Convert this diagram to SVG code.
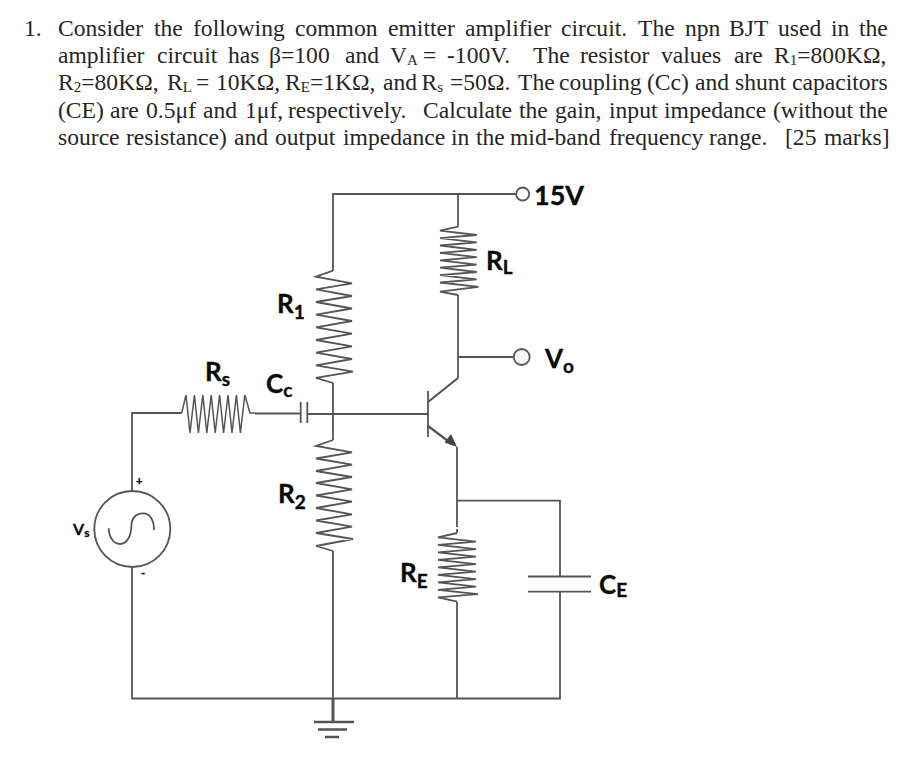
<svg xmlns="http://www.w3.org/2000/svg" width="924" height="781" viewBox="0 0 924 781">
<style>
.w{fill:none;stroke:#555;stroke-width:1.8;stroke-linejoin:miter}
.t{font-family:"Liberation Serif","Times New Roman",serif;font-size:23.6px;fill:#262626}
.s{font-size:15px}
.l{font-family:Lato,"Liberation Sans",sans-serif;font-weight:700;font-size:26px;fill:#0a0a0a;stroke:#0a0a0a;stroke-width:.35px}
.b{font-size:19px}
</style>
<rect width="924" height="781" fill="#fff"/>
<g id="problem-text" class="t">
<text y="36"><tspan x="24">1. </tspan><tspan x="58">Consider </tspan><tspan x="154">the </tspan><tspan x="193">following </tspan><tspan x="295">common </tspan><tspan x="388">emitter </tspan><tspan x="465">amplifier </tspan><tspan x="561">circuit. </tspan><tspan x="638">The </tspan><tspan x="685">npn </tspan><tspan x="729">BJT </tspan><tspan x="778">used </tspan><tspan x="831">in </tspan><tspan x="859">the</tspan></text>
<text y="63"><tspan x="58">amplifier </tspan><tspan x="157">circuit </tspan><tspan x="228">has </tspan><tspan x="269">β=100 </tspan><tspan x="345">and </tspan><tspan x="390">V<tspan class="s" dy="2">A</tspan></tspan><tspan x="423" dy="-2">= </tspan><tspan x="447">-100V. </tspan><tspan x="533">The </tspan><tspan x="580">resistor </tspan><tspan x="661">values </tspan><tspan x="734">are </tspan><tspan x="774">R<tspan class="s" dy="2">1</tspan><tspan dy="-2">=800KΩ,</tspan></tspan></text>
<text y="90"><tspan x="58">R<tspan class="s" dy="2">2</tspan><tspan dy="-2">=80KΩ, </tspan></tspan><tspan x="167">R<tspan class="s" dy="2">L</tspan></tspan><tspan x="196" dy="-2">= </tspan><tspan x="216">10KΩ, </tspan><tspan x="285">R<tspan class="s" dy="2">E</tspan><tspan dy="-2">=1KΩ, </tspan></tspan><tspan x="383">and </tspan><tspan x="421.5">R<tspan class="s" dy="2">s</tspan></tspan><tspan x="450" dy="-2">=50Ω. </tspan><tspan x="518">The </tspan><tspan x="559">coupling </tspan><tspan x="647">(Cc) </tspan><tspan x="695">and </tspan><tspan x="735">shunt </tspan><tspan x="792">capacitors</tspan></text>
<text y="118"><tspan x="58">(CE) </tspan><tspan x="110">are </tspan><tspan x="146">0.5μf </tspan><tspan x="203">and </tspan><tspan x="245">1μf, </tspan><tspan x="288">respectively. </tspan><tspan x="423">Calculate </tspan><tspan x="519">the </tspan><tspan x="555">gain, </tspan><tspan x="609">input </tspan><tspan x="664">impedance </tspan><tspan x="773">(without </tspan><tspan x="859">the</tspan></text>
<text y="145"><tspan x="58">source </tspan><tspan x="126">resistance) </tspan><tspan x="234">and </tspan><tspan x="275">output </tspan><tspan x="343">impedance </tspan><tspan x="451">in </tspan><tspan x="476">the </tspan><tspan x="510">mid-band </tspan><tspan x="609">frequency </tspan><tspan x="709">range. </tspan><tspan x="785">[25 </tspan><tspan x="824">marks]</tspan></text>
</g>
<g id="connectors" class="w">
<polyline points="516,194 333,194 333,270.7"/>
<line x1="458" y1="194" x2="458" y2="226.7"/>
<line x1="458" y1="295" x2="458" y2="378"/>
<line x1="458" y1="357" x2="514" y2="357"/>
<polyline points="132,490.7 132,413 181.7,413"/>
<line x1="255" y1="413.5" x2="300.7" y2="413.5"/>
<line x1="307.3" y1="414" x2="428" y2="414"/>
<line x1="333" y1="383" x2="333" y2="440"/>
<line x1="333" y1="551" x2="333" y2="698.5"/>
<polyline points="132,567 132,698.5 560,698.5 560,591.7"/>
<polyline points="457,447 457,527"/>
<line x1="457" y1="529" x2="457" y2="533"/>
<polyline points="457,500.7 560,500.7 560,576.5"/>
<line x1="457" y1="601.7" x2="457" y2="698.5"/>
</g>
<g id="R1" class="w"><polyline points="333,270.7 316,276.7 352,283.3 316,289.4 352,296 316,302 352,308.5 316,314.7 352,321 316,327.4 352,333.7 316,340 352,346.3 316,352.6 352,359 316,365.3 353,371.6 316,377.9 333,383"/></g>
<g id="R2" class="w"><polyline points="333,440 316,446 352,452.3 316,458.5 352,464.7 316,471 352,477 316,483 352,489.3 316,495.5 352,501.7 316,508 352,514.3 316,520.5 352,526.7 316,533 353,539 316,546 333,551"/></g>
<g id="RL" class="w"><polyline points="458,226.7 440,230.7 476.7,235 440,238.1 476.7,242.4 440,245.5 476.7,249.8 440,252.9 476.7,257.2 440,260.3 476.7,264.6 440,267.7 476.7,272 440,275.1 476.7,279.4 440,282.5 478.5,286.8 440,291.7 458,295"/></g>
<g id="RE" class="w"><polyline points="457,533 438,537.3 476,541.7 438,544.8 476,549.2 438,552.3 476,556.7 438,559.8 476,564.2 438,567.3 476,571.7 438,574.8 476,579.2 438,582.3 476,586.7 438,589.8 478,594.2 438,597.3 457,601.7"/></g>
<g id="Rs" class="w"><polyline stroke-width="1.5" points="181.7,413 186,395 190,433 194.4,395 198.4,433 202.8,395 206.8,433 211.2,395 215.2,433 219.6,395 223.6,433 228,395 232,433 236.4,395 240.4,433 244.8,395 250,413 255,413"/></g>
<g id="Cc" class="w"><line x1="300.7" y1="402" x2="300.7" y2="423"/><line x1="307.3" y1="402" x2="307.3" y2="423"/></g>
<g id="CE" class="w"><line x1="528" y1="576.5" x2="591" y2="576.5"/><line x1="528" y1="591.7" x2="591" y2="591.7"/></g>
<g id="transistor" class="w">
<line x1="428" y1="391" x2="428" y2="437"/>
<line x1="458" y1="378" x2="428" y2="402" stroke-width="2.2"/>
<line x1="428" y1="426" x2="452" y2="444" stroke-width="2.2"/>
<polygon points="457,447 444.5,442.5 451,434" fill="#444" stroke="none"/>
</g>
<g id="Vs-source" class="w">
<circle cx="132.3" cy="529" r="38"/>
<path d="M108.7,528.3C109,538 114,544 120,544C127,544 131,536 131.3,526.7C131.6,518 136,513.3 143.3,513.3C150,513.3 154,520 154,530"/>
</g>
<g id="ground" class="w">
<line x1="333" y1="698.5" x2="333" y2="722" stroke-width="3"/>
<line x1="314" y1="722" x2="354" y2="722" stroke-width="2.5"/>
<line x1="318" y1="729.5" x2="347" y2="729.5" stroke-width="2.5"/>
<line x1="325" y1="737" x2="339" y2="737" stroke-width="2.5"/>
</g>
<g id="terminal-15V">
<circle class="w" cx="522.7" cy="194" r="6.5" style="fill:#fff"/>
<text class="l" x="534" y="205" style="font-size:27px">15V</text>
</g>
<g id="terminal-Vo">
<circle class="w" cx="521.7" cy="357" r="8" style="fill:#f4f4f4"/>
<text class="l" x="545" y="368">V<tspan class="b" dy="5">o</tspan></text>
</g>
<g id="labels">
<text class="l" x="277" y="313">R<tspan class="b" dy="6">1</tspan></text>
<text class="l" x="205" y="381">R<tspan class="b" dy="5">s</tspan></text>
<text class="l" x="266" y="393">C<tspan class="b" dy="4">c</tspan></text>
<text class="l" x="278" y="503">R<tspan class="b" dy="6">2</tspan></text>
<text class="l" x="486" y="270">R<tspan class="b" dy="4">L</tspan></text>
<text class="l" x="400" y="582">R<tspan class="b" dy="6">E</tspan></text>
<text class="l" x="599" y="594">C<tspan class="b" dy="3">E</tspan></text>
<text class="l" x="73" y="535" style="font-size:16px">V<tspan dy="2" style="font-size:12px">s</tspan></text>
<text class="l" x="136" y="485" style="font-size:11px">+</text>
<text class="l" x="141" y="577" style="font-size:11px">-</text>
</g>
</svg>
